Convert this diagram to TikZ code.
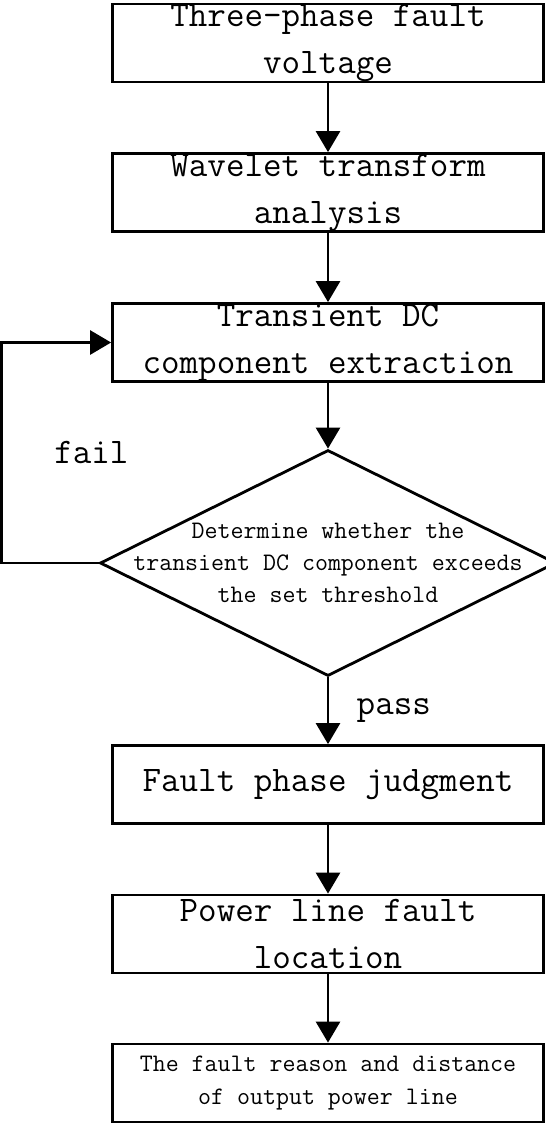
\documentclass[tikz,border=0pt]{standalone}
\usepackage{tikz}
\usetikzlibrary{arrows.meta,shapes.geometric,positioning}

\tikzset{
  stepbox/.style={draw, line width=2.8pt, minimum width=431pt, minimum height=78pt,
    inner sep=0pt, align=center, font=\ttfamily\fontsize{36}{47}\selectfont},
  decide/.style={draw, diamond, line width=2.8pt, minimum width=456pt, minimum height=226pt,
    inner sep=0pt},
  flow/.style={line width=2.8pt, -{Triangle[width=24pt,length=21pt]}},
  bigtext/.style={font=\ttfamily\fontsize{36}{47}\selectfont},
}

\begin{document}
\begin{tikzpicture}[x=1pt,y=1pt]
   \useasboundingbox (0,0) rectangle (546,-1125);

   \draw (328,-43) node[stepbox] (voltage) {Three-phase fault\\voltage};
   \draw (328,-192.5) node[stepbox] (wavelet) {Wavelet transform\\analysis};
   \draw (328,-342.5) node[stepbox] (extract) {Transient DC\\component extraction};
   \draw (328,-563) node[decide, label={[align=center, font=\ttfamily\fontsize{25.2}{32}\selectfont]center:Determine whether the\\transient DC component exceeds\\the set threshold}] (judge) {};
   \draw (328,-784.5) node[stepbox] (phase) {Fault phase judgment};
   \draw (328,-934) node[stepbox] (locate) {Power line fault\\location};
   \draw (328,-1083) node[stepbox, font=\ttfamily\fontsize{25.2}{33}\selectfont] (output) {The fault reason and distance\\of output power line};

     \draw[flow] (voltage) -- (wavelet);
     \draw[flow] (wavelet) -- (extract);
     \draw[flow] (extract) -- (judge);
     \draw[flow] (judge) -- node[bigtext, right=24pt] {pass} (phase);
     \draw[flow] (phase) -- (locate);
     \draw[flow] (locate) -- (output);
     \draw[flow] (judge.west) -- ++(-97,0) |- node[bigtext, pos=0.25, right=48pt] {fail} (extract.west);

\end{tikzpicture}
\end{document}
